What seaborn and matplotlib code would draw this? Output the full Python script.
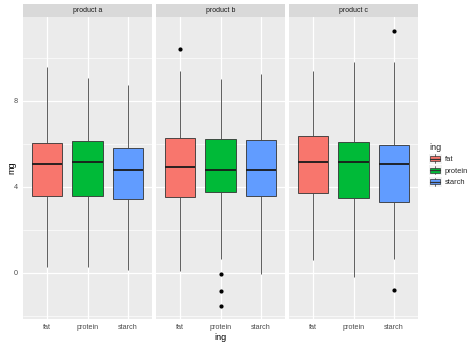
import numpy as np
import pandas as pd
import matplotlib
matplotlib.use("Agg")
import matplotlib.pyplot as plt
from matplotlib.patches import Rectangle, Patch
from matplotlib.lines import Line2D
from matplotlib.legend_handler import HandlerBase
import seaborn as sns

# ---- data (box summary per product x ingredient) ----
products = ["product a", "product b", "product c"]
ings = ["fat", "protein", "starch"]
lower_whisker = [[0.29, 0.29, 0.14], [0.11, 0.65, -0.05], [0.60, -0.17, 0.64]]
q1 = [[3.58, 3.60, 3.43], [3.55, 3.75, 3.58], [3.72, 3.50, 3.28]]
median = [[5.08, 5.15, 4.78], [4.93, 4.78, 4.81], [5.15, 5.15, 5.06]]
q3 = [[6.06, 6.12, 5.83], [6.26, 6.22, 6.17], [6.37, 6.11, 5.95]]
upper_whisker = [[9.57, 9.08, 8.74], [9.40, 9.00, 9.27], [9.40, 9.83, 9.80]]
outliers = [[[], [], []],
            [[10.40], [-0.03, -0.84, -1.53], []],
            [[], [], [11.26, -0.80]]]
colors = ["#F8766D", "#00BA38", "#619CFF"]

# build sample table whose quartiles / whiskers reproduce the read values
rows = []
for pi, prod in enumerate(products):
    for ii, ing in enumerate(ings):
        vals = ([lower_whisker[pi][ii]] + [q1[pi][ii]] * 10 + [median[pi][ii]] * 10
                + [q3[pi][ii]] * 10 + [upper_whisker[pi][ii]] + list(outliers[pi][ii]))
        for v in vals:
            rows.append({"product": prod, "ing": ing, "mg": v})
df = pd.DataFrame(rows)

sns.set_style("white")
plt.rcParams["font.family"] = ["Liberation Sans", "DejaVu Sans"]

W, H = 474, 346
fig = plt.figure(figsize=(W / 100, H / 100), dpi=100)

panel_top, panel_bot = 17, 319
lefts = [23, 156, 289]
pw = 129
ylim = (-2.14, 11.9)

def fx(px):
    return px / W

def fy(py):
    return (H - py) / H

axes = []
for k, prod in enumerate(products):
    ax = fig.add_axes([fx(lefts[k]), fy(panel_bot), fx(pw), (panel_bot - panel_top) / H])
    ax.set_facecolor("#EBEBEB")
    sub = df[df["product"] == prod]
    sns.boxplot(data=sub, x="ing", y="mg", hue="ing", order=ings, hue_order=ings,
                palette=colors, saturation=1, width=0.75, linecolor="#333333",
                linewidth=0.6, legend=False, ax=ax, showcaps=False, whis=1.5,
                medianprops=dict(linewidth=1.3, color="#1A1A1A"),
                whiskerprops=dict(linewidth=0.6, color="#444444"),
                flierprops=dict(marker="o", markersize=2.0, markerfacecolor="black",
                                markeredgecolor="black"))
    ax.set_xlim(-0.6, 2.6)
    ax.set_ylim(*ylim)
    ax.set_yticks([0, 4, 8])
    ax.set_yticks([-2, 2, 6, 10], minor=True)
    ax.grid(True, which="major", color="white", linewidth=0.9)
    ax.grid(True, which="minor", axis="y", color="white", linewidth=0.45)
    ax.set_axisbelow(True)
    for s in ax.spines.values():
        s.set_visible(False)
    ax.tick_params(axis="both", which="major", length=2, width=0.5, color="#333333",
                   labelcolor="#4D4D4D", labelsize=5.2, pad=1.5)
    ax.tick_params(axis="both", which="minor", length=0)
    ax.set_xlabel("")
    ax.set_ylabel("")
    if k > 0:
        ax.tick_params(axis="y", which="major", labelleft=False, length=0)
    axes.append(ax)
    # strip
    sax = fig.add_axes([fx(lefts[k]), fy(panel_top), fx(pw), 13 / H])
    sax.set_facecolor("#D9D9D9")
    sax.set_xticks([])
    sax.set_yticks([])
    for s in sax.spines.values():
        s.set_visible(False)
    sax.text(0.5, 0.5, prod, ha="center", va="center", fontsize=5, color="#1A1A1A",
             transform=sax.transAxes)

fig.text(fx(12), fy((panel_top + panel_bot) / 2), "mg", rotation=90, ha="center",
         va="center", fontsize=6.5, color="black")
fig.text(fx((lefts[0] + lefts[2] + pw) / 2), fy(338), "ing", ha="center", va="center",
         fontsize=6.5, color="black")


class BoxHandler(HandlerBase):
    def create_artists(self, legend, orig_handle, xdescent, ydescent, width, height,
                       fontsize, trans):
        fc = orig_handle.get_facecolor()
        x0, y0 = -xdescent, -ydescent
        bg = Rectangle((x0, y0), width, height, facecolor="#F2F2F2", edgecolor="none",
                       transform=trans)
        bx = Rectangle((x0 + width * 0.1, y0 + height * 0.25), width * 0.8, height * 0.5,
                       facecolor=fc, edgecolor="#333333", linewidth=0.5, transform=trans)
        cx = x0 + width / 2
        w1 = Line2D([cx, cx], [y0 + height * 0.08, y0 + height * 0.25], color="#333333",
                    linewidth=0.5, transform=trans)
        w2 = Line2D([cx, cx], [y0 + height * 0.75, y0 + height * 0.92], color="#333333",
                    linewidth=0.5, transform=trans)
        md = Line2D([x0 + width * 0.1, x0 + width * 0.9], [y0 + height / 2] * 2,
                    color="#333333", linewidth=0.9, transform=trans)
        return [bg, bx, w1, w2, md]


handles = [Patch(facecolor=c, edgecolor="#333333") for c in colors]
leg = fig.legend(handles, ings, loc="upper left", bbox_to_anchor=(fx(429), fy(143)),
                 frameon=False, fontsize=5.4, title="ing", title_fontsize=6.5,
                 handler_map={Patch: BoxHandler()}, handlelength=1.7, handleheight=1.7,
                 handletextpad=0.4, labelspacing=0.2, alignment="left",
                 borderaxespad=0, borderpad=0)

fig.savefig("out.png", dpi=100)
